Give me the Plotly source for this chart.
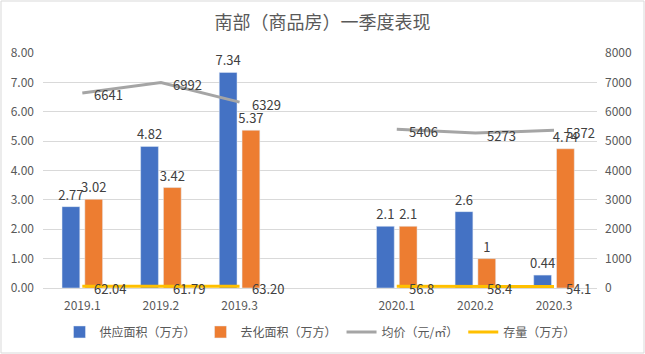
import plotly.graph_objects as go

categories = ["2019.1", "2019.2", "2019.3", " ", "2020.1", "2020.2", "2020.3"]
supply = [2.77, 4.82, 7.34, None, 2.1, 2.6, 0.44]
supply_text = ["2.77", "4.82", "7.34", "", "2.1", "2.6", "0.44"]
absorb = [3.02, 3.42, 5.37, None, 2.1, 1, 4.74]
absorb_text = ["3.02", "3.42", "5.37", "", "2.1", "1", "4.74"]
price = [6641, 6992, 6329, None, 5406, 5273, 5372]
price_text = ["6641", "6992", "6329", "", "5406", "5273", "5372"]
stock = [62.04, 61.79, 63.20, None, 56.8, 58.4, 54.1]
stock_text = ["62.04", "61.79", "63.20", "", "56.8", "58.4", "54.1"]

FONT = "Noto Sans CJK SC, Microsoft YaHei, sans-serif"
lbl = dict(family=FONT, size=13, color="#404040")

fig = go.Figure()
fig.add_trace(go.Bar(x=categories, y=supply, name="供应面积（万方）", marker_color="#4472C4",
                     text=supply_text, textposition="outside", textfont=lbl,
                     constraintext="none", cliponaxis=False))
fig.add_trace(go.Bar(x=categories, y=absorb, name="去化面积（万方）", marker_color="#ED7D31",
                     text=absorb_text, textposition="outside", textfont=lbl,
                     constraintext="none", cliponaxis=False))
fig.add_trace(go.Scatter(x=categories, y=price, name="均价（元/㎡）", mode="lines",
                         line=dict(color="#A5A5A5", width=3), yaxis="y2",
                         connectgaps=False, cliponaxis=False))
fig.add_trace(go.Scatter(x=categories, y=stock, name="存量（万方）", mode="lines",
                         line=dict(color="#FFC000", width=3), yaxis="y2",
                         connectgaps=False, cliponaxis=False))

annotations = []
for series, texts in ((price, price_text), (stock, stock_text)):
    for i, (v, t) in enumerate(zip(series, texts)):
        if v is None:
            continue
        annotations.append(dict(x=i, y=v, xref="x", yref="y2", text=t, showarrow=False,
                                xanchor="left", yanchor="middle", xshift=10, yshift=-2,
                                font=lbl))

pw, ph = 554, 235
fig.add_shape(type="rect", xref="paper", yref="paper",
              x0=(1 - 43) / pw, x1=(644 - 43) / pw,
              y0=-(353 - 288) / ph, y1=(288 - 1) / ph,
              line=dict(color="#D9D9D9", width=1), fillcolor="rgba(0,0,0,0)", layer="below")

fig.update_layout(
    width=645, height=354,
    margin=dict(l=43, r=48, t=53, b=66, autoexpand=False),
    paper_bgcolor="white", plot_bgcolor="white",
    font=dict(family=FONT, size=12, color="#595959"),
    title=dict(text="南部（商品房）一季度表现", x=0.5, xanchor="center", y=0.935, yanchor="middle",
               font=dict(family=FONT, size=18, color="#595959")),
    barmode="group", bargap=0.42, bargroupgap=0.22,
    xaxis=dict(type="category", categoryorder="array", categoryarray=categories,
               showgrid=False, showline=True, linecolor="#D9D9D9",
               ticks="", ticklabelstandoff=7, tickfont=dict(size=12, color="#595959")),
    yaxis=dict(range=[0, 8], dtick=1, tickformat=".2f", showgrid=True, gridcolor="#D9D9D9",
               zeroline=False, ticks="", ticklabelstandoff=8,
               tickfont=dict(size=12, color="#595959")),
    yaxis2=dict(range=[0, 8000], dtick=1000, overlaying="y", side="right", showgrid=False,
                zeroline=False, ticks="", ticklabelstandoff=7,
                tickfont=dict(size=12, color="#595959")),
    legend=dict(orientation="h", x=0.5, xanchor="center", y=-0.187, yanchor="middle",
                font=dict(size=12, color="#595959"), itemwidth=30, traceorder="normal"),
    annotations=annotations,
    showlegend=True,
)

fig.write_html("out.html")
